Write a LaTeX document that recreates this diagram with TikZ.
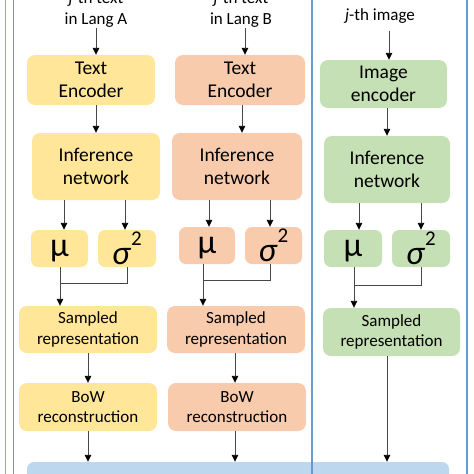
\documentclass[tikz,border=0pt]{standalone}
\usepackage{fontspec}
\setmainfont{Carlito}
\usetikzlibrary{arrows.meta}
\definecolor{cyel}{HTML}{FFE699}
\definecolor{csal}{HTML}{F8CBAD}
\definecolor{cgrn}{HTML}{C5E0B4}
\definecolor{cblu}{HTML}{BDD7EE}
\definecolor{cline}{HTML}{6A9BD0}
\definecolor{cline2}{HTML}{8FA9C6}
\newcommand\sigsq{\textit{σ}\raisebox{0.55em}{\fontsize{21}{21}\selectfont 2}}
\begin{document}
\begin{tikzpicture}[x=1pt,y=-1pt,
  bx/.style={rounded corners=8pt, inner sep=0pt, align=center, font=\fontsize{19.5}{23.5}\selectfont},
  sbx/.style={bx, font=\fontsize{17}{20.5}\selectfont},
  gbx/.style={rounded corners=7pt, inner sep=0pt},
  lbl/.style={inner sep=0pt, align=center, font=\fontsize{17}{20.5}\selectfont},
  conn/.style={draw=black!72, line width=0.9pt},
  arr/.style={conn, -{Triangle[length=7pt,width=6.5pt,color=black]}},
  frame/.style={draw=cline, line width=1.3pt},
  mutxt/.style={font=\fontsize{34}{34}\selectfont, yshift=-3pt},
  sgtxt/.style={font=\fontsize{34}{34}\selectfont},
]
\useasboundingbox (0,0) rectangle (474,474);
% frame lines
\draw[draw=cline2, line width=1.3pt] (5.5,-5) -- (5.5,480);
\draw[frame] (13.5,-5) -- (13.5,480);
\draw[frame] (467,-5) -- (467,480);
% bottom box
\node[gbx, fill=cblu, minimum width=422pt, minimum height=36pt] (out) at (238,480) {};
\draw[frame] (312,-5) -- (312,480);

% labels
\node[lbl, anchor=south] (txtA) at (96,27.5) {\textit{j}-th text\\in Lang A};
\node[lbl, anchor=south] (txtB) at (241,27.5) {\textit{j}-th text\\in Lang B};
\node[lbl] (txtC) at (380,16) {\textit{j}-th image};

% column A
\node[bx, fill=cyel, minimum width=128pt, minimum height=50pt] (encA) at (91,80) {Text\\Encoder};
\node[bx, fill=cyel, minimum width=128pt, minimum height=67pt] (infA) at (96,166.5) {Inference\\network};
\node[gbx, fill=cyel, minimum width=57pt, minimum height=37pt] (muA) at (59.5,248.5) {};
\node[mutxt] at (muA) {μ};
\node[gbx, fill=cyel, minimum width=58pt, minimum height=37pt] (sgA) at (127,248.5) {};
\node[sgtxt] at (sgA) {\sigsq};
\node[sbx, fill=cyel, minimum width=138pt, minimum height=47pt] (smpA) at (88,329.5) {Sampled\\representation};
\node[sbx, fill=cyel, minimum width=138pt, minimum height=48pt] (bowA) at (88,407) {BoW\\reconstruction};

% column B
\node[bx, fill=csal, minimum width=130pt, minimum height=50pt] (encB) at (240,80) {Text\\Encoder};
\node[bx, fill=csal, minimum width=130pt, minimum height=67pt] (infB) at (237,166.5) {Inference\\network};
\node[gbx, fill=csal, minimum width=56pt, minimum height=37pt] (muB) at (207,245.5) {};
\node[mutxt] at (muB) {μ};
\node[gbx, fill=csal, minimum width=57pt, minimum height=37pt] (sgB) at (273.5,245.5) {};
\node[sgtxt] at (sgB) {\sigsq};
\node[sbx, fill=csal, minimum width=138pt, minimum height=47pt] (smpB) at (236,329.5) {Sampled\\representation};
\node[sbx, fill=csal, minimum width=138pt, minimum height=48pt] (bowB) at (237,407) {BoW\\reconstruction};

% column C
\node[bx, fill=cgrn, minimum width=127pt, minimum height=48pt] (encC) at (383.5,84) {Image\\encoder};
\node[bx, fill=cgrn, minimum width=126pt, minimum height=67pt] (infC) at (387,169.5) {Inference\\network};
\node[gbx, fill=cgrn, minimum width=58pt, minimum height=37pt] (muC) at (353,248.5) {};
\node[mutxt] at (muC) {μ};
\node[gbx, fill=cgrn, minimum width=58pt, minimum height=37pt] (sgC) at (421,248.5) {};
\node[sgtxt] at (sgC) {\sigsq};
\node[sbx, fill=cgrn, minimum width=137pt, minimum height=48pt] (smpC) at (391.5,332) {Sampled\\representation};

% arrows A
\draw[arr] (txtA.south -| 96,0) -- (encA.north -| 96,0);
\draw[arr] (encA.south -| 96,0) -- (infA.north -| 96,0);
\draw[arr] (infA.south -| 64,0) -- (muA.north -| 64,0);
\draw[arr] (infA.south -| 125,0) -- (sgA.north -| 125,0);
\draw[conn] (sgA.south) |- (60,283);
\draw[arr] (muA.south -| 60,0) -- (smpA.north -| 60,0);
\draw[arr] (smpA.south -| 88,0) -- (bowA.north -| 88,0);
\draw[arr] (bowA.south -| 88,0) -- (out.north -| 88,0);

% arrows B
\draw[arr] (txtB.south -| 245,0) -- (encB.north -| 245,0);
\draw[arr] (encB.south -| 242,0) -- (infB.north -| 242,0);
\draw[arr] (infB.south -| 209,0) -- (muB.north -| 209,0);
\draw[arr] (infB.south -| 270,0) -- (sgB.north -| 270,0);
\draw[conn] (sgB.south -| 270,0) |- (203,280);
\draw[arr] (muB.south -| 203,0) -- (smpB.north -| 203,0);
\draw[arr] (smpB.south -| 235,0) -- (bowB.north -| 235,0);
\draw[arr] (bowB.south -| 235,0) -- (out.north -| 235,0);

% arrows C
\draw[arr] ([yshift=-7pt]txtC.south -| 389,0) -- (encC.north -| 389,0);
\draw[arr] (encC.south -| 387,0) -- (infC.north -| 387,0);
\draw[arr] (infC.south -| 359,0) -- (muC.north -| 359,0);
\draw[arr] (infC.south -| 421,0) -- (sgC.north -| 421,0);
\draw[conn] (sgC.south -| 421,0) |- (354,285);
\draw[arr] (muC.south -| 354,0) -- (smpC.north -| 354,0);
\draw[arr] (smpC.south -| 387,0) -- (out.north -| 387,0);
\end{tikzpicture}
\end{document}
